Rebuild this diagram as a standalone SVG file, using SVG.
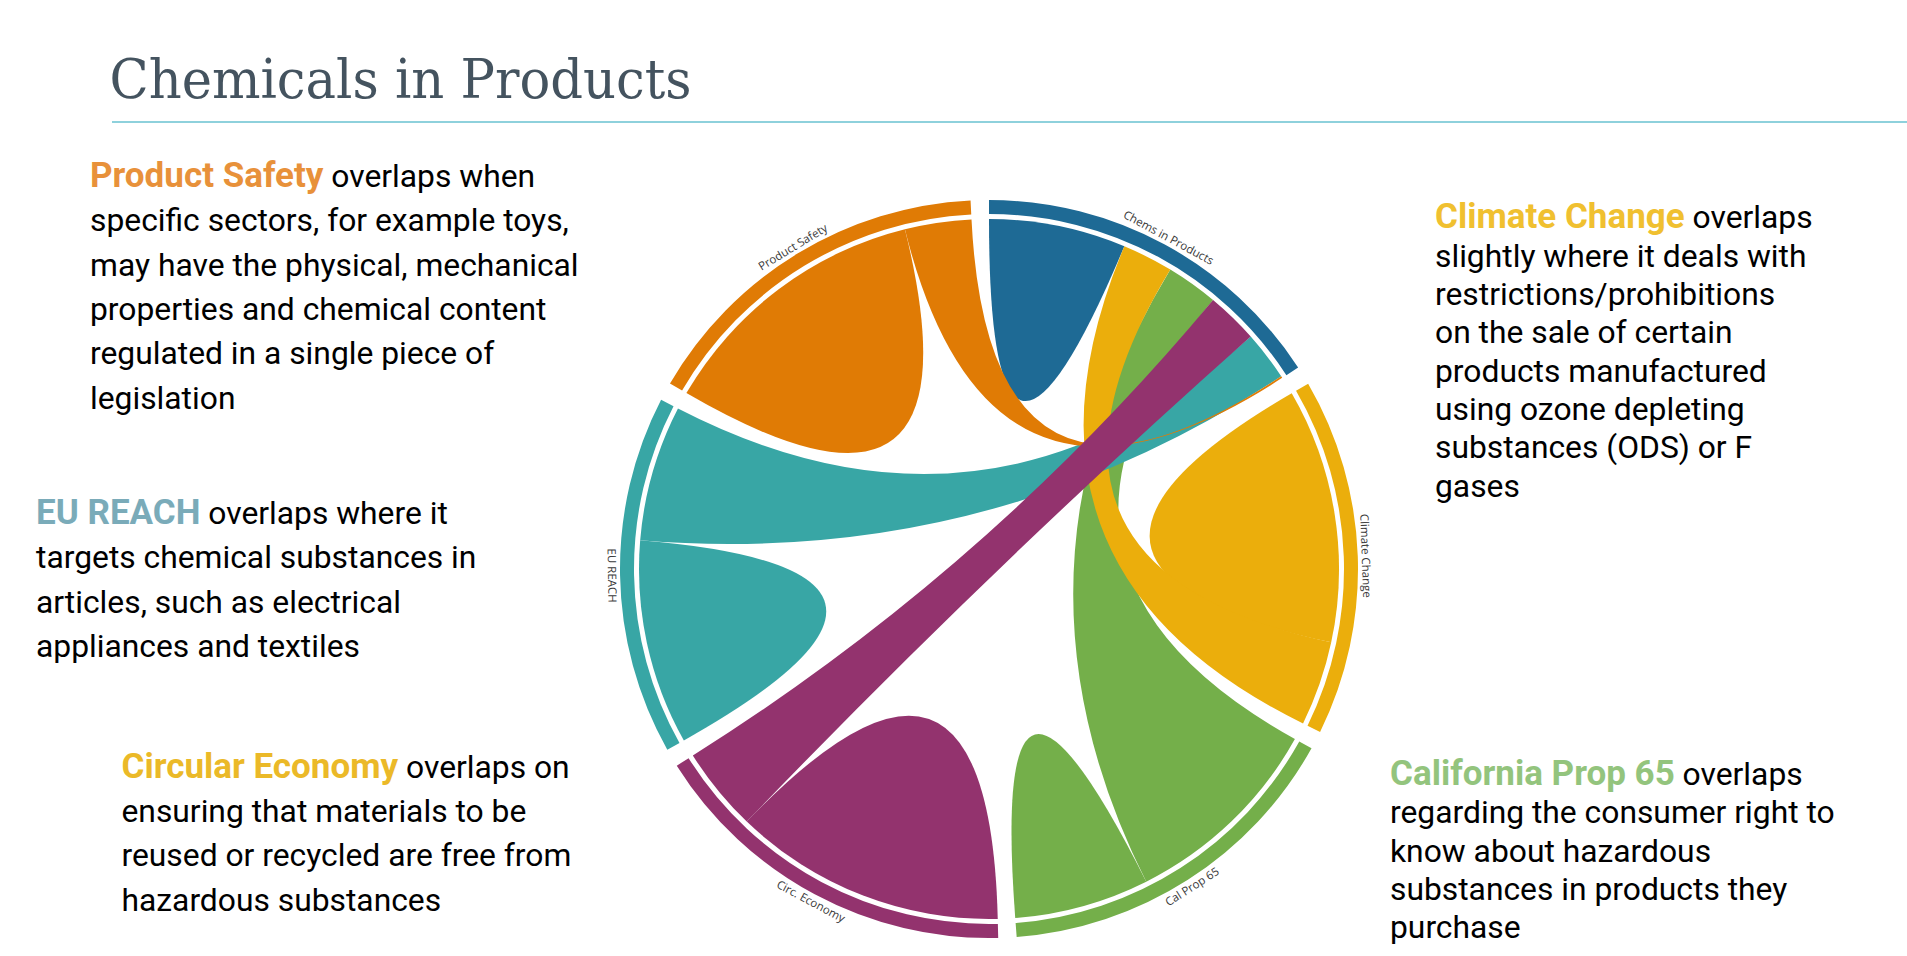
<svg xmlns="http://www.w3.org/2000/svg" width="1907" height="956" viewBox="0 0 1907 956">
<style>
.body{font-family:Roboto,"Liberation Sans",Arial,sans-serif;font-size:31.8px;fill:#000}
.hd{font-weight:700;font-size:35px}
.lbl{font-family:"Open Sans","Liberation Sans",Arial,sans-serif;font-size:11.5px;fill:#3a3a3a;text-anchor:middle}
.chems{fill:#1e6a95}.clim{fill:#ebae0c}.cal{fill:#74af4a}.circ{fill:#93336e}.eu{fill:#38a6a5}.ps{fill:#e07b05}
</style>
<rect width="1907" height="956" fill="#fff"/>
<text x="109.5" y="98" font-family="'DejaVu Serif','Liberation Serif',serif" font-size="54" fill="#44535f" textLength="582" lengthAdjust="spacingAndGlyphs">Chemicals in Products</text>
<line x1="112" y1="122" x2="1907" y2="122" stroke="#8ed1dc" stroke-width="2"/>

<g id="connectors">
<path class="chems" d="M989,219 A350,350 0 0 1 1124.35,246.23 Q989,569 989,219 Z"/>
<path class="clim" d="M1291.71,393.31 A350,350 0 0 1 1331.22,642.37 Q989,569 1291.71,393.31 Z"/>
<path class="cal" d="M1146.26,881.69 A350,350 0 0 1 1015.24,918.02 Q989,569 1146.26,881.69 Z"/>
<path class="circ" d="M997.74,918.89 A350,350 0 0 1 746.75,821.62 Q989,569 997.74,918.89 Z"/>
<path class="eu" d="M683.86,740.44 A350,350 0 0 1 640.18,540.32 Q989,569 683.86,740.44 Z"/>
<path class="ps" d="M686.41,393.1 A350,350 0 0 1 904.92,229.25 Q989,569 686.41,393.1 Z"/>
<path class="cal" d="M1170.31,269.62 A350,350 0 0 1 1213.04,300.10 Q989,569 1294.91,739.06 A350,350 0 0 1 1146.26,881.69 Q989,569 1170.31,269.62 Z"/>
<path class="clim" d="M1124.35,246.23 A350,350 0 0 1 1170.31,269.62 Q989,569 1331.22,642.37 A350,350 0 0 1 1303.04,723.53 Q989,569 1124.35,246.23 Z"/>
<path class="eu" d="M1250.73,336.62 A350,350 0 0 1 1281.20,376.33 Q989,569 640.18,540.32 A350,350 0 0 1 677.98,408.47 Q989,569 1250.73,336.62 Z"/>
<path class="ps" d="M1281.20,376.33 A350,350 0 0 1 1282.2,377.86 Q989,569 904.92,229.25 A350,350 0 0 1 971.51,219.44 Q989,569 1281.20,376.33 Z"/>
<path class="circ" d="M1213.04,300.10 A350,350 0 0 1 1250.73,336.62 Q989,569 746.75,821.62 A350,350 0 0 1 692.83,755.51 Q989,569 1213.04,300.10 Z"/>
</g>

<g id="node-chems">
<path class="chems" d="M989,200 A369,369 0 0 1 1298.12,367.49 L1286.39,375.13 A355,355 0 0 0 989,214 Z"/>
<text class="lbl" transform="translate(1168.61,237.54) rotate(28.45)" dy="0.35em">Chems in Products</text>
</g>
<g id="node-climate">
<path class="clim" d="M1308.14,383.77 A369,369 0 0 1 1320.09,731.92 L1307.53,725.74 A355,355 0 0 0 1296.04,390.80 Z"/>
<text class="lbl" transform="translate(1365.77,555.84) rotate(88)" dy="0.35em">Climate Change</text>
</g>
<g id="node-calprop">
<path class="cal" d="M1311.52,748.29 A369,369 0 0 1 1016.67,936.96 L1015.62,923.0 A355,355 0 0 0 1299.28,741.49 Z"/>
<text class="lbl" transform="translate(1192.12,886.6) rotate(-32.6)" dy="0.35em">Cal Prop 65</text>
</g>
<g id="node-circ">
<path class="circ" d="M998.21,937.89 A369,369 0 0 1 676.75,765.63 L688.60,758.17 A355,355 0 0 0 997.86,923.89 Z"/>
<text class="lbl" transform="translate(810.85,901.25) rotate(28.2)" dy="0.35em">Circ. Economy</text>
</g>
<g id="node-eu">
<path class="eu" d="M667.30,749.75 A369,369 0 0 1 661.10,399.75 L673.54,406.18 A355,355 0 0 0 679.50,742.89 Z"/>
<text class="lbl" transform="translate(612.06,575.58) rotate(89)" dy="0.35em">EU REACH</text>
</g>
<g id="node-ps">
<path class="ps" d="M669.98,383.55 A369,369 0 0 1 970.56,200.46 L971.26,214.44 A355,355 0 0 0 682.08,390.59 Z"/>
<text class="lbl" transform="translate(792.87,247.04) rotate(-31.35)" dy="0.35em">Product Safety</text>
</g>

<g id="text-product-safety" class="body">
<text x="90" y="187"><tspan class="hd" fill="#e8913a">Product Safety</tspan> overlaps when</text>
<text x="90" y="231.3">specific sectors, for example toys,</text>
<text x="90" y="275.6">may have the physical, mechanical</text>
<text x="90" y="319.9">properties and chemical content</text>
<text x="90" y="364.2">regulated in a single piece of</text>
<text x="90" y="408.5">legislation</text>
</g>
<g id="text-eu-reach" class="body">
<text x="36" y="524"><tspan class="hd" fill="#7aabb9">EU REACH</tspan> overlaps where it</text>
<text x="36" y="568.3">targets chemical substances in</text>
<text x="36" y="612.6">articles, such as electrical</text>
<text x="36" y="656.9">appliances and textiles</text>
</g>
<g id="text-circular" class="body">
<text x="121.5" y="777.5"><tspan class="hd" fill="#ebb928">Circular Economy</tspan> overlaps on</text>
<text x="121.5" y="821.9">ensuring that materials to be</text>
<text x="121.5" y="866.3">reused or recycled are free from</text>
<text x="121.5" y="910.7">hazardous substances</text>
</g>
<g id="text-climate" class="body">
<text x="1435" y="228.3"><tspan class="hd" fill="#f0c030">Climate Change</tspan> overlaps</text>
<text x="1435" y="266.7">slightly where it deals with</text>
<text x="1435" y="305">restrictions/prohibitions</text>
<text x="1435" y="343.4">on the sale of certain</text>
<text x="1435" y="381.7">products manufactured</text>
<text x="1435" y="420.1">using ozone depleting</text>
<text x="1435" y="458.4">substances (ODS) or F</text>
<text x="1435" y="496.8">gases</text>
</g>
<g id="text-calprop" class="body">
<text x="1390" y="785"><tspan class="hd" fill="#93c47d">California Prop 65</tspan> overlaps</text>
<text x="1390" y="823.3">regarding the consumer right to</text>
<text x="1390" y="861.6">know about hazardous</text>
<text x="1390" y="899.9">substances in products they</text>
<text x="1390" y="938.2">purchase</text>
</g>
</svg>
